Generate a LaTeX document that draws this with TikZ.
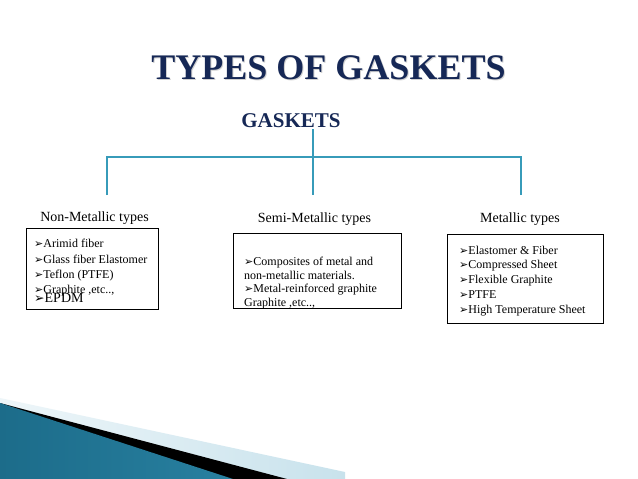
\documentclass[tikz,border=0pt]{standalone}
\usepackage{fontspec}
\setmainfont{Liberation Serif}
\newfontfamily\dvfont{DejaVu Sans}
\definecolor{navy}{RGB}{22,40,86}
\definecolor{linecol}{RGB}{55,155,185}
\definecolor{tealA}{RGB}{28,108,138}
\definecolor{tealB}{RGB}{78,172,206}
\definecolor{tealC}{RGB}{40,128,160}
\definecolor{paleblue}{RGB}{200,226,236}
\newcommand\arw[1][11]{{\dvfont\fontsize{#1}{#1}\selectfont ➢}}
\begin{document}
\begin{tikzpicture}[x=1pt,y=-1pt,
  item/.style={anchor=base west, inner sep=0pt, font=\fontsize{12}{14}\selectfont},
  lab/.style={anchor=base, inner sep=0pt, font=\fontsize{14}{16}\selectfont},
  box/.style={draw=black, line width=0.8pt, inner sep=0pt},
  conn/.style={color=linecol, line width=1.1pt}]
\useasboundingbox (0,0) rectangle (638,479);
\fill[white] (0,0) rectangle (638,479);
% bottom decoration
\shade[left color=paleblue!30!white, right color=paleblue] (0,398) -- (345,472) -- (345,479) -- (0,479) -- cycle;
\fill[black] (30,411) -- (287,479) -- (0,479) -- (0,403) -- cycle;
\shade[left color=tealA, middle color=tealB, right color=tealC] (0,403) -- (233,479) -- (0,479) -- cycle;
% title
\node[anchor=base, inner sep=0pt, text=black!18, font=\fontsize{36}{40}\selectfont\bfseries] (titleshadow) at (329.5,80.8) {TYPES OF GASKETS};
\node[anchor=base, inner sep=0pt, text=navy, font=\fontsize{36}{40}\selectfont\bfseries] (title) at (328.5,79.5) {TYPES OF GASKETS};
\node[anchor=base, inner sep=0pt, text=navy, font=\fontsize{21}{24}\selectfont\bfseries] (root) at (291,127) {GASKETS};
% connectors
\coordinate (c0) at (313,129);
\coordinate (hub) at (313,157);
\coordinate (cl) at (107,157);
\coordinate (cr) at (521,157);
\coordinate (el) at (107,195);
\coordinate (em) at (313,195);
\coordinate (er) at (521,195);
\draw[conn] (c0) -- (em);
\draw[conn] (el) -- (cl) -- (cr) -- (er);
% category labels
\node[lab] (nm) at (94.5,221) {Non-Metallic types};
\node[lab] (sm) at (314.5,222) {Semi-Metallic types};
\node[lab] (mt) at (520,222) {Metallic types};
% boxes
\node[box, minimum width=132pt, minimum height=81pt] (b1) at (92,268.5) {};
\node[box, minimum width=168pt, minimum height=75pt] (b2) at (317,270.5) {};
\node[box, minimum width=156pt, minimum height=89pt] (b3) at (525,278.5) {};
% left box
\node[item] (a1) at (34,247) {\arw Arimid fiber};
\node[item] (a2) at (34,263) {\arw Glass fiber Elastomer};
\node[item] (a3) at (34,278) {\arw Teflon (PTFE)};
\node[item] (a4) at (34,293) {\arw Graphite ,etc..,};
\node[item, font=\fontsize{14}{16}\selectfont] (a5) at (34,302) {\arw[12.5]EPDM};
% middle box
\node[item] (m1) at (244,265.5) {\arw Composites of metal and};
\node[item] (m2) at (244,279) {non-metallic materials.};
\node[item] (m3) at (244,292.5) {\arw Metal-reinforced graphite};
\node[item] (m4) at (244,306) {Graphite ,etc..,};
% right box
\node[item] (r1) at (459,254) {\arw Elastomer \& Fiber};
\node[item] (r2) at (459,268.5) {\arw Compressed Sheet};
\node[item] (r3) at (459,283.5) {\arw Flexible Graphite};
\node[item] (r4) at (459,298) {\arw PTFE};
\node[item] (r5) at (459,313) {\arw High Temperature Sheet};
\end{tikzpicture}
\end{document}
